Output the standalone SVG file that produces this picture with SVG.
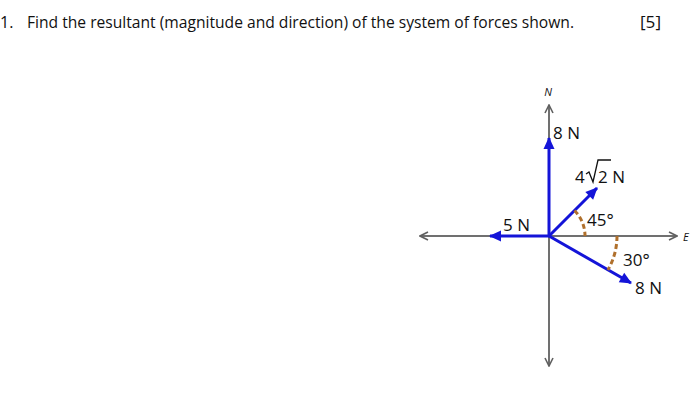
<svg xmlns="http://www.w3.org/2000/svg" width="700" height="408" viewBox="0 0 700 408">
<defs>
<style>
.t{font-family:"Open Sans","Liberation Sans",sans-serif;fill:#111}
.lbl{font-family:"Open Sans","Liberation Sans",sans-serif;font-size:17px;fill:#111}
.ax{stroke:#707070;stroke-width:2;fill:none}
.f{stroke:#1414d8;stroke-width:3;fill:none}
.arc{stroke:#b0702c;stroke-width:3;stroke-dasharray:5,3;fill:none}
</style>
<marker id="open" viewBox="0 0 10 10" refX="9" refY="5" markerWidth="10" markerHeight="10" markerUnits="userSpaceOnUse" orient="auto">
<path d="M1,1 L9,5 L1,9" fill="none" stroke="#606060" stroke-width="1.6"/>
</marker>
<marker id="solid" viewBox="0 0 12 12" refX="11" refY="6" markerWidth="13" markerHeight="12" markerUnits="userSpaceOnUse" orient="auto">
<path d="M0,0.5 L12,6 L0,11.5 Z" fill="#1414d8"/>
</marker>
</defs>
<rect width="700" height="408" fill="#fff"/>
<g id="title">
<text class="t" x="0" y="28" font-size="16">1.</text>
<text class="t" x="27" y="28" font-size="16" textLength="547" lengthAdjust="spacingAndGlyphs">Find the resultant (magnitude and direction) of the system of forces shown.</text>
<text class="t" x="640" y="28" font-size="16" textLength="21" lengthAdjust="spacingAndGlyphs">[5]</text>
</g>
<g id="axes">
<line class="ax" x1="549" y1="236" x2="549" y2="105" marker-end="url(#open)"/>
<line class="ax" x1="549" y1="236" x2="549" y2="366" marker-end="url(#open)"/>
<line class="ax" x1="549" y1="236" x2="420" y2="236" marker-end="url(#open)"/>
<line class="ax" x1="549" y1="236" x2="677" y2="236" marker-end="url(#open)"/>
<text class="t" x="548" y="96" font-size="11" font-style="italic" text-anchor="middle">N</text>
<text class="t" x="683" y="241" font-size="11" font-style="italic">E</text>
</g>
<g id="connectors">
<line class="f" x1="549" y1="236" x2="549" y2="138" marker-end="url(#solid)"/>
<line class="f" x1="549" y1="236" x2="490" y2="236" marker-end="url(#solid)"/>
<line class="f" x1="549" y1="236" x2="597" y2="188" marker-end="url(#solid)"/>
<line class="f" x1="549" y1="236" x2="631" y2="283" marker-end="url(#solid)"/>
<path class="arc" d="M574.5,210.5 A36,36 0 0 1 585,236"/>
<path class="arc" d="M617,236 A68,68 0 0 1 607.9,270"/>
</g>
<g id="labels">
<text class="lbl" x="575" y="183">4</text>
<path d="M586,174 L589,172 L593,182 L598,160 L611,160" fill="none" stroke="#111" stroke-width="1.3"/>
<text class="lbl" x="598" y="183">2 N</text>
<text class="lbl" x="553" y="139">8 N</text>
<text class="lbl" x="587" y="226">45°</text>
<text class="lbl" x="623" y="266">30°</text>
<text class="lbl" x="635" y="294">8 N</text>
<text class="lbl" x="503" y="231">5 N</text>
</g>
</svg>
